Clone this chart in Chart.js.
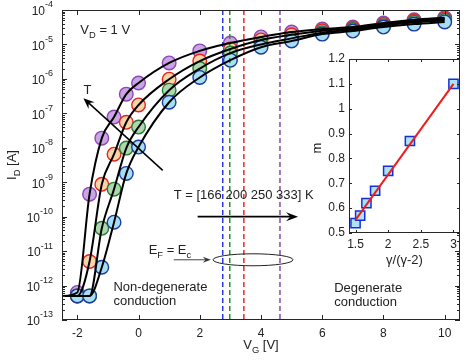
<!DOCTYPE html>
<html>
<head>
<meta charset="utf-8">
<script src="https://cdn.jsdelivr.net/npm/chart.js@4.4.0/dist/chart.umd.min.js"></script>
<style>
	html, body { margin: 0; padding: 0; background: #fff; }
	#wrap { position: relative; width: 474px; height: 363px; }
	#main { position: absolute; left: 0; top: 0; }
	#inset { position: absolute; left: 300px; top: 40px; }
</style>
</head>
<body>
<div id="wrap">
	<canvas id="main" width="474" height="363"></canvas>
	<canvas id="inset" width="174" height="230"></canvas>
</div>
<script>
(function () {

	'use strict';

	// gate voltage of the measured points [V]
	var vg = [-2, -1.6, -1.2, -0.8, -0.4, 0, 1, 2, 3, 4, 5, 6, 7, 8, 9, 10];

	// drain current [A] per temperature
	var id166 = [5e-13, 5e-13, 3.4e-12, 6.9e-11, 1.8e-9, 1.05e-8, 2.1e-7, 1.1e-6, 3.5e-6, 8.3e-6, 1.26e-5, 2.0e-5, 2.45e-5, 3.2e-5, 3.9e-5, 4.5e-5];
	var id200 = [5e-13, 5e-13, 4.6e-11, 6.3e-10, 9.8e-9, 4.0e-8, 4.7e-7, 2.0e-6, 5.6e-6, 1.0e-5, 1.5e-5, 2.2e-5, 2.7e-5, 3.5e-5, 4.4e-5, 5.0e-5];
	var id250 = [5e-13, 5e-12, 8.7e-10, 6.5e-9, 5.5e-8, 1.75e-7, 9.8e-7, 3.3e-6, 7.4e-6, 1.35e-5, 1.9e-5, 2.5e-5, 2.95e-5, 3.8e-5, 4.8e-5, 5.5e-5];
	var id333 = [6.3e-13, 4.5e-10, 1.9e-8, 7.8e-8, 3.6e-7, 7.6e-7, 2.9e-6, 6.5e-6, 1.1e-5, 1.65e-5, 2.3e-5, 2.8e-5, 3.2e-5, 4.2e-5, 5.2e-5, 6.0e-5];

	// leakage floor where the fitted curves start
	var vgStart = -2.5;
	var idFloor = 5e-13;

	// gate voltage where E_F = E_c, one per temperature (166, 200, 250, 333 K)
	var efVG = [2.75, 2.98, 3.44, 4.62];

	// y tick decades (log10)
	var decades = [-13, -12, -11, -10, -9, -8, -7, -6, -5, -4];

	// inset: m versus gamma/(gamma-2)
	var gammaRatio = [1.5, 1.571, 1.667, 1.8, 2, 2.333, 3];
	var mVals = [0.54, 0.57, 0.62, 0.67, 0.75, 0.87, 1.10];
	var fitX = [1.5, 3];
	var fitM = [0.553, 1.10];

	var FONT = "'Liberation Sans', Arial, Helvetica, sans-serif";
	var INK = '#222';
	var AXIS = '#262626';

	var series = [
		{ data: id166, fill: '#a6def4', edge: '#1c3b9c', dash: '#2b35d9' },
		{ data: id200, fill: '#add7ae', edge: '#2a7a34', dash: '#1f951f' },
		{ data: id250, fill: '#f9d4a6', edge: '#e8231f', dash: '#e82a2a' },
		{ data: id333, fill: '#caa4e4', edge: '#8b48b5', dash: '#8a4a9e' }
	];

	function pts(ys) {
		return vg.map(function (v, i) { return { x: v, y: ys[i] }; });
	}

	// text with subscripts: parts = [[text, isSub], ...]
	function rich(ctx, parts, x, y, size, align) {
		var w = 0;
		parts.forEach(function (p) {
			ctx.font = (p[1] ? size * 0.72 : size) + 'px ' + FONT;
			w += ctx.measureText(p[0]).width;
		});
		var cx = align === 'center' ? x - w / 2 : x;
		ctx.textAlign = 'left';
		ctx.textBaseline = 'middle';
		parts.forEach(function (p) {
			ctx.font = (p[1] ? size * 0.72 : size) + 'px ' + FONT;
			ctx.fillText(p[0], cx, p[1] ? y + size * 0.38 : y);
			cx += ctx.measureText(p[0]).width;
		});
	}

	function arrow(ctx, x1, y1, x2, y2, len, wid) {
		var ang = Math.atan2(y2 - y1, x2 - x1);
		ctx.beginPath();
		ctx.moveTo(x1, y1);
		ctx.lineTo(x2 - Math.cos(ang) * len * 0.6, y2 - Math.sin(ang) * len * 0.6);
		ctx.stroke();
		ctx.save();
		ctx.translate(x2, y2);
		ctx.rotate(ang);
		ctx.beginPath();
		ctx.moveTo(0, 0);
		ctx.lineTo(-len, -wid / 2);
		ctx.lineTo(-len * 0.65, 0);
		ctx.lineTo(-len, wid / 2);
		ctx.closePath();
		ctx.fill();
		ctx.restore();
	}

	var datasets = [];

	// fitted curves (on top)
	series.forEach(function (s) {
		datasets.push({
			data: [{ x: vgStart, y: idFloor }].concat(pts(s.data)),
			showLine: true,
			borderColor: '#000',
			borderWidth: 2,
			pointRadius: 0,
			cubicInterpolationMode: 'monotone',
			order: 0
		});
	});

	// E_F = E_c dashed markers
	efVG.forEach(function (v, i) {
		datasets.push({
			data: [{ x: v, y: 1e-4 }, { x: v, y: 1e-13 }],
			showLine: true,
			borderColor: series[i].dash,
			borderWidth: 1.5,
			borderDash: [5, 3],
			pointRadius: 0,
			order: 0
		});
	});

	// measured points, lowest temperature drawn on top
	series.forEach(function (s, i) {
		datasets.push({
			data: pts(s.data),
			backgroundColor: s.fill,
			borderColor: s.edge,
			borderWidth: 1.4,
			pointRadius: 6.8,
			order: i + 1
		});
	});

	var mainDecor = {
		id: 'mainDecor',
		afterDraw: function (chart) {
			var ctx = chart.ctx, a = chart.chartArea;
			var xs = chart.scales.x, ys = chart.scales.y;
			function P(x, y) { return [xs.getPixelForValue(x), ys.getPixelForValue(y)]; }

			ctx.save();
			ctx.strokeStyle = AXIS;
			ctx.lineWidth = 1;
			ctx.strokeRect(a.left + 0.5, a.top + 0.5, a.right - a.left - 1, a.bottom - a.top - 1);

			// inward ticks
			ctx.beginPath();
			xs.ticks.forEach(function (t) {
				var x = Math.round(xs.getPixelForValue(t.value)) + 0.5;
				ctx.moveTo(x, a.bottom); ctx.lineTo(x, a.bottom - 5);
				ctx.moveTo(x, a.top); ctx.lineTo(x, a.top + 5);
			});
			decades.forEach(function (e) {
				var y = Math.round(ys.getPixelForValue(Math.pow(10, e))) + 0.5;
				ctx.moveTo(a.left, y); ctx.lineTo(a.left + 5, y);
				ctx.moveTo(a.right, y); ctx.lineTo(a.right - 5, y);
				if (e < -4) {
					for (var k = 2; k <= 9; k++) {
						var ym = Math.round(ys.getPixelForValue(k * Math.pow(10, e))) + 0.5;
						ctx.moveTo(a.left, ym); ctx.lineTo(a.left + 3, ym);
						ctx.moveTo(a.right, ym); ctx.lineTo(a.right - 3, ym);
					}
				}
			});
			ctx.stroke();

			// y tick labels 10^n
			ctx.fillStyle = INK;
			decades.forEach(function (e) {
				var y = ys.getPixelForValue(Math.pow(10, e));
				var ex = String(e);
				ctx.font = '9px ' + FONT;
				var ew = ctx.measureText(ex).width;
				var right = a.left - 9;
				ctx.textBaseline = 'middle';
				ctx.textAlign = 'left';
				ctx.fillText(ex, right - ew, y - 5);
				ctx.font = '12px ' + FONT;
				ctx.textAlign = 'right';
				ctx.fillText('10', right - ew, y + 2);
			});

			// axis titles
			rich(ctx, [['V'], ['G', true], [' [V]']], (a.left + a.right) / 2, chart.height - 18, 13, 'center');
			ctx.save();
			ctx.translate(12, (a.top + a.bottom) / 2);
			ctx.rotate(-Math.PI / 2);
			rich(ctx, [['I'], ['D', true], [' [A]']], 0, 0, 13, 'center');
			ctx.restore();

			// annotations
			var p, q;
			p = P(-1.9, 2.6e-5);
			rich(ctx, [['V'], ['D', true], [' = 1 V']], p[0], p[1], 13, 'left');

			p = P(-1.67, 4.7e-7);
			rich(ctx, [['T']], p[0], p[1], 13, 'center');

			ctx.strokeStyle = '#000';
			ctx.fillStyle = '#000';
			ctx.lineWidth = 1.5;
			p = P(0.79, 2.2e-9); q = P(-1.80, 2.75e-7);
			arrow(ctx, p[0], p[1], q[0], q[1], 11, 9);

			ctx.fillStyle = INK;
			p = P(1.15, 4.2e-10);
			rich(ctx, [['T = [166 200 250 333] K']], p[0], p[1], 13, 'left');

			ctx.fillStyle = '#000';
			ctx.lineWidth = 1.8;
			p = P(1.93, 1.0e-10); q = P(5.21, 1.0e-10);
			arrow(ctx, p[0], p[1], q[0], q[1], 12, 9);

			ctx.fillStyle = INK;
			p = P(0.33, 1.05e-11);
			rich(ctx, [['E'], ['F', true], [' = E'], ['c', true]], p[0], p[1], 13, 'left');

			ctx.strokeStyle = '#444';
			ctx.fillStyle = '#333';
			ctx.lineWidth = 1;
			p = P(1.15, 5.6e-12); q = P(2.36, 5.6e-12);
			arrow(ctx, p[0], p[1], q[0], q[1], 8, 6);

			ctx.strokeStyle = '#222';
			p = P(3.74, 5.6e-12);
			ctx.beginPath();
			ctx.ellipse(p[0], p[1], 40, 6, 0, 0, Math.PI * 2);
			ctx.stroke();

			ctx.fillStyle = INK;
			p = P(-0.82, 8.9e-13);
			rich(ctx, [['Non-degenerate']], p[0], p[1], 13, 'left');
			p = P(-0.82, 3.5e-13);
			rich(ctx, [['conduction']], p[0], p[1], 13, 'left');
			p = P(6.39, 8.3e-13);
			rich(ctx, [['Degenerate']], p[0], p[1], 13, 'left');
			p = P(6.39, 3.2e-13);
			rich(ctx, [['conduction']], p[0], p[1], 13, 'left');

			ctx.restore();
		}
	};

	new Chart(document.getElementById('main'), {
		type: 'scatter',
		data: { datasets: datasets },
		options: {
			responsive: false,
			animation: false,
			layout: { padding: { top: 10, right: 14, left: 0, bottom: 0 } },
			plugins: { legend: { display: false }, tooltip: { enabled: false } },
			scales: {
				x: {
					type: 'linear',
					min: -2.5,
					max: 10.5,
					afterFit: function (s) { s.height = 43; },
					grid: { display: false, drawTicks: false },
					border: { display: false },
					ticks: { stepSize: 2, includeBounds: false, padding: 6, maxRotation: 0, color: INK, font: { family: FONT, size: 12 } }
				},
				y: {
					type: 'logarithmic',
					min: 1e-13,
					max: 1e-4,
					afterFit: function (s) { s.width = 62; },
					grid: { display: false, drawTicks: false },
					border: { display: false },
					ticks: { display: false }
				}
			}
		},
		plugins: [mainDecor]
	});

	var insetDecor = {
		id: 'insetDecor',
		beforeDatasetsDraw: function (chart) {
			var ctx = chart.ctx, a = chart.chartArea;
			ctx.save();
			ctx.fillStyle = '#fff';
			ctx.fillRect(a.left, a.top, a.right - a.left, a.bottom - a.top);
			ctx.restore();
		},
		afterDraw: function (chart) {
			var ctx = chart.ctx, a = chart.chartArea;
			var xs = chart.scales.x, ys = chart.scales.y;
			ctx.save();
			ctx.strokeStyle = AXIS;
			ctx.lineWidth = 1;
			ctx.strokeRect(a.left + 0.5, a.top + 0.5, a.right - a.left - 1, a.bottom - a.top - 1);
			ctx.beginPath();
			xs.ticks.forEach(function (t) {
				var x = Math.round(xs.getPixelForValue(t.value)) + 0.5;
				ctx.moveTo(x, a.bottom); ctx.lineTo(x, a.bottom - 3);
				ctx.moveTo(x, a.top); ctx.lineTo(x, a.top + 3);
			});
			ys.ticks.forEach(function (t) {
				var y = Math.round(ys.getPixelForValue(t.value)) + 0.5;
				ctx.moveTo(a.left, y); ctx.lineTo(a.left + 3, y);
				ctx.moveTo(a.right, y); ctx.lineTo(a.right - 3, y);
			});
			ctx.stroke();

			ctx.fillStyle = INK;
			rich(ctx, [['\u03b3/(\u03b3-2)']], (a.left + a.right) / 2, a.bottom + 27, 13, 'center');
			ctx.save();
			ctx.translate(a.left - 32, (a.top + a.bottom) / 2 + 2);
			ctx.rotate(-Math.PI / 2);
			rich(ctx, [['m']], 0, 0, 13, 'center');
			ctx.restore();
			ctx.restore();
		}
	};

	function plain(v) { return String(Math.round(v * 10) / 10); }

	new Chart(document.getElementById('inset'), {
		type: 'scatter',
		data: {
			datasets: [{
				data: fitX.map(function (x, i) { return { x: x, y: fitM[i] }; }),
				showLine: true,
				borderColor: '#ee1c1c',
				borderWidth: 2,
				pointRadius: 0,
				order: 0
			}, {
				data: gammaRatio.map(function (x, i) { return { x: x, y: mVals[i] }; }),
				pointStyle: 'rect',
				pointRadius: 6.5,
				backgroundColor: '#aee3f5',
				borderColor: '#1530d8',
				borderWidth: 1.5,
				order: 1
			}]
		},
		options: {
			responsive: false,
			animation: false,
			layout: { padding: { top: 19, right: 14, left: 0, bottom: 0 } },
			plugins: { legend: { display: false }, tooltip: { enabled: false } },
			scales: {
				x: {
					type: 'linear',
					min: 1.4,
					max: 3.1,
					afterFit: function (s) { s.height = 37; },
					grid: { display: false, drawTicks: false },
					border: { display: false },
					ticks: { stepSize: 0.5, includeBounds: false, padding: 4, maxRotation: 0, color: INK, font: { family: FONT, size: 12 }, callback: plain }
				},
				y: {
					type: 'linear',
					min: 0.5,
					max: 1.2,
					afterFit: function (s) { s.width = 49; },
					grid: { display: false, drawTicks: false },
					border: { display: false },
					ticks: { stepSize: 0.1, padding: 4, color: INK, font: { family: FONT, size: 12 }, callback: plain }
				}
			}
		},
		plugins: [insetDecor]
	});

})();
</script>
</body>
</html>
